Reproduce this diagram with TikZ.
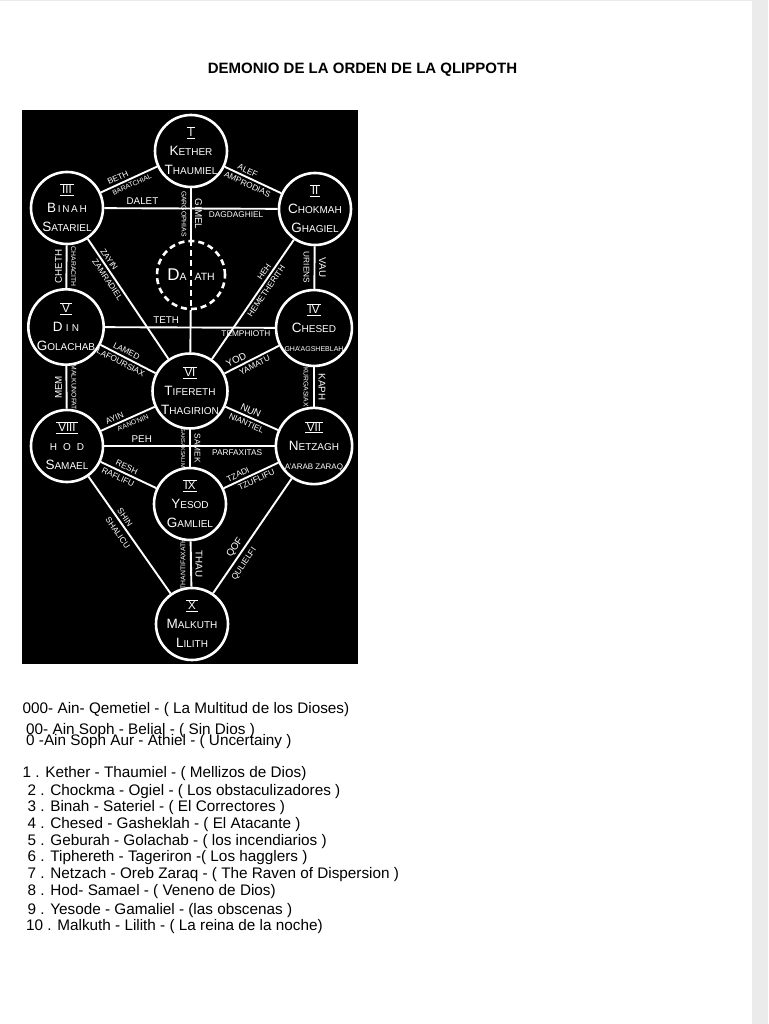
\documentclass[tikz,border=0pt]{standalone}
\usepackage{fontspec}
\setmainfont{Liberation Sans}
\usetikzlibrary{positioning}
\definecolor{pagegray}{HTML}{EBEBEB}
\newcommand{\rnum}[1]{{\fontsize{11.5}{11.5}\selectfont$\overline{\underline{\hbox{\,#1\,}}}$}}
\newcommand{\bigfirst}[1]{{\fontsize{13.5}{13.5}\selectfont #1}}
\tikzset{
  sefira/.style={
    circle, draw=white, fill=black, line width=2.6pt,
    minimum size=72pt, inner sep=0pt, align=center, text=white,
    font=\fontsize{10}{19}\selectfont
  },
  dsefira/.style={
    sefira, minimum size=68pt, dash pattern=on 6pt off 4pt
  },
  tunnel/.style={draw=white, line width=1.9pt},
  tag/.style={text=white, inner sep=1.5pt, font=\fontsize{8.3}{9}\selectfont},
  bigtag/.style={tag, font=\fontsize{9.8}{10}\selectfont},
  smalltag/.style={tag, font=\fontsize{6.8}{7}\selectfont},
  tinytag/.style={tag, font=\fontsize{5.6}{6}\selectfont},
  entry/.style={anchor=base west, inner sep=0pt, font=\fontsize{15.3}{16}\selectfont}
}

\begin{document}
\begin{tikzpicture}[x=1pt, y=-1pt]
  \useasboundingbox (0,0) rectangle (768,1024);
  \fill[white] (0,0) rectangle (768,1024);
  \fill[pagegray] (752,0) rectangle (768,1024);
  \draw[pagegray] (0,0.5) -- (752,0.5);

  \node[font=\fontsize{15}{15}\selectfont\bfseries] (title) at (362.5,69.5)
    {DEMONIO DE LA ORDEN DE LA QLIPPOTH};

  % the tree
  \fill[black] (22,110) rectangle (358,664);
  \node[sefira] (kether) at (191,151) {\rnum{I}\\\bigfirst{K}ETHER\\\bigfirst{T}HAUMIEL};
  \node[sefira] (chokmah) at (315,209) {\rnum{II}\\\bigfirst{C}HOKMAH\\\bigfirst{G}HAGIEL};
  \node[sefira] (binah) at (67,208) {\rnum{III}\\\bigfirst{B}\,I\,N\,A\,H\\\bigfirst{S}ATARIEL};
  \node[dsefira] (daath) at (191,275) {\fontsize{17}{17}\selectfont D\fontsize{10.5}{10.5}\selectfont A\hspace{8pt}ATH};
  \node[sefira] (chesed) at (314,328) {\rnum{IV}\\\bigfirst{C}HESED\\{\fontsize{7}{7}\selectfont GHA'AGSHEBLAH}};
  \node[sefira] (din) at (66,327) {\rnum{V}\\\bigfirst{D}\,\,I\,\,N\\\bigfirst{G}OLACHAB};
  \node[sefira] (tiphereth) at (190,391) {\rnum{VI}\\\bigfirst{T}IFERETH\\\bigfirst{T}HAGIRION};
  \node[sefira] (netzach) at (314,446) {\rnum{VII}\\\bigfirst{N}ETZAGH\\{\fontsize{8}{8}\selectfont A'ARAB ZARAQ}};
  \node[sefira] (hod) at (67,446) {\rnum{VIII}\\H\hspace{6pt}O\hspace{6pt}D\\\bigfirst{S}AMAEL};
  \node[sefira] (yesod) at (190,504) {\rnum{IX}\\\bigfirst{Y}ESOD\\\bigfirst{G}AMLIEL};
  \node[sefira] (malkuth) at (192,624) {\rnum{X}\\\bigfirst{M}ALKUTH\\\bigfirst{L}ILITH};

  \draw[tunnel] (kether) -- (chokmah)
    node[tag, pos=0.36, sloped, above=1pt] {ALEF}
    node[tag, pos=0.45, sloped, below=1pt] {AMPRODIAS};
  \draw[tunnel] (kether) -- (binah)
    node[tag, pos=0.65, sloped, above=1pt] {BETH}
    node[smalltag, pos=0.49, sloped, below=1pt] {BARATCHIAL};
  \draw[tunnel] (binah) -- (chokmah)
    node[bigtag, pos=0.22, above=1pt] {DALET}
    node[tag, pos=0.76, below=1pt] {DAGDAGHIEL};
  \draw[tunnel] (kether) -- (daath)
    node[bigtag, midway, xshift=7.5, rotate=-90] {GIMEL}
    node[smalltag, midway, xshift=-7, rotate=-90] {GARGOPHIAS};
  \draw[tunnel, dash pattern=on 6pt off 4pt] (daath.north) -- (daath.south);
  \draw[tunnel] (daath) -- (tiphereth);
  \draw[tunnel] (chokmah) -- (tiphereth)
    node[tag, pos=0.3, sloped, above=1pt] {HEH}
    node[tag, pos=0.4, sloped, below=1pt] {HEMETHERITH};
  \draw[tunnel] (chokmah) -- (chesed)
    node[bigtag, midway, xshift=8, rotate=-90] {VAU}
    node[tag, midway, xshift=-8, rotate=-90] {URIENS};
  \draw[tunnel] (binah) -- (tiphereth)
    node[tag, pos=0.2, sloped, above=1pt] {ZAYIN}
    node[tag, pos=0.31, sloped, below=1pt] {ZAMRADIEL};
  \draw[tunnel] (binah) -- (din)
    node[bigtag, midway, xshift=-8, rotate=90] {CHETH}
    node[smalltag, midway, xshift=7, rotate=-90] {CHARACITH};
  \draw[tunnel] (din) -- (chesed)
    node[bigtag, pos=0.36, above=1pt] {TETH}
    node[tag, pos=0.83, below=1pt] {TEMPHIOTH};
  \draw[tunnel] (chesed) -- (tiphereth)
    node[bigtag, pos=0.73, sloped, above=1pt] {YOD}
    node[tag, pos=0.5, sloped, below=1pt] {YAMATU};
  \draw[tunnel] (chesed) -- (netzach)
    node[bigtag, midway, xshift=8, rotate=-90] {KAPH}
    node[smalltag, midway, xshift=-8, rotate=-90] {KURGASIAX};
  \draw[tunnel] (din) -- (tiphereth)
    node[tag, pos=0.42, sloped, above=1pt] {LAMED}
    node[tag, pos=0.42, sloped, below=1pt] {LAFOURSIAX};
  \draw[tunnel] (din) -- (hod)
    node[bigtag, midway, xshift=-8, rotate=90] {MEM}
    node[smalltag, midway, xshift=7.5, rotate=-90] {MALKUNOFAT};
  \draw[tunnel] (tiphereth) -- (netzach)
    node[bigtag, pos=0.43, sloped, above=1pt] {NUN}
    node[tag, pos=0.45, sloped, below=1pt] {NIANTIEL};
  \draw[tunnel] (tiphereth) -- (yesod)
    node[tag, midway, xshift=7.5, rotate=-90] {SAMEK}
    node[tinytag, midway, xshift=-7, rotate=-90] {SAKSAKSALIM};
  \draw[tunnel] (hod) -- (tiphereth)
    node[tag, pos=0.3, sloped, above=1pt] {AYIN}
    node[smalltag, pos=0.55, sloped, below=1pt] {A'ANO'NIN};
  \draw[tunnel] (hod) -- (netzach)
    node[bigtag, pos=0.22, above=1pt] {PEH}
    node[tag, pos=0.78, below=1pt] {PARFAXITAS};
  \draw[tunnel] (netzach) -- (yesod)
    node[tag, pos=0.69, sloped, above=1pt] {TZADI}
    node[tag, pos=0.45, sloped, below=1pt] {TZUFLIFU};
  \draw[tunnel] (hod) -- (yesod)
    node[tag, pos=0.42, sloped, above=1pt] {RESH}
    node[tag, pos=0.36, sloped, below=1pt] {RAFLIFU};
  \draw[tunnel] (hod) -- (malkuth)
    node[tag, pos=0.38, sloped, above=1pt] {SHIN}
    node[tag, pos=0.44, sloped, below=3pt] {SHALICU};
  \draw[tunnel] (netzach) -- (malkuth)
    node[bigtag, pos=0.64, sloped, above=1pt] {QOF}
    node[tag, pos=0.7, sloped, below=3pt] {QULIELFI};
  \draw[tunnel] (yesod) -- (malkuth)
    node[bigtag, midway, xshift=8, rotate=-90] {THAU}
    node[smalltag, midway, xshift=-8, rotate=90] {THANTIFAXATH};

  % the list
  \node[entry] (l000) at (22.5,713.3) {000- Ain- Qemetiel - ( La Multitud de los Dioses)};
  \node[entry] (l00) at (26,734.3) {00- Ain Soph - Belial - ( Sin Dios )};
  \node[entry] (l0) at (26,745) {0 -Ain Soph Aur - Athiel - ( Uncertainy )};
  \node[entry] (l1) at (22.5,777.7) {1 . Kether - Thaumiel - ( Mellizos de Dios)};
  \node[entry] (l2) at (27.5,795) {2 . Chockma - Ogiel - ( Los obstaculizadores )};
  \node[entry] (l3) at (27.5,811.7) {3 . Binah - Sateriel - ( El Correctores )};
  \node[entry] (l4) at (27.5,828.3) {4 . Chesed - Gasheklah - ( El Atacante )};
  \node[entry] (l5) at (27.5,845) {5 . Geburah - Golachab - ( los incendiarios )};
  \node[entry] (l6) at (27.5,861) {6 . Tiphereth - Tageriron -( Los hagglers )};
  \node[entry] (l7) at (27.5,878.3) {7 . Netzach - Oreb Zaraq - ( The Raven of Dispersion )};
  \node[entry] (l8) at (27.5,895) {8 . Hod- Samael - ( Veneno de Dios)};
  \node[entry] (l9) at (27.5,914.3) {9 . Yesode - Gamaliel - (las obscenas )};
  \node[entry] (l10) at (26,930) {10 . Malkuth - Lilith - ( La reina de la noche)};
\end{tikzpicture}
\end{document}
